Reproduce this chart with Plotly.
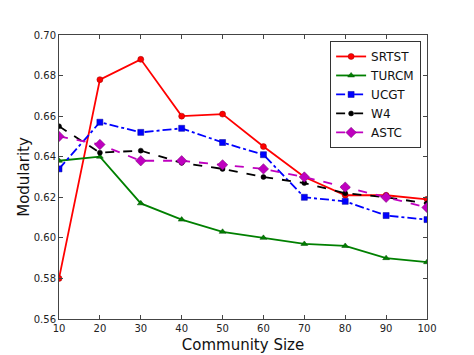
import plotly.graph_objects as go

sizes = [10, 20, 30, 40, 50, 60, 70, 80, 90, 100]
srtst = [0.580, 0.678, 0.688, 0.660, 0.661, 0.645, 0.630, 0.621, 0.621, 0.619]
turcm = [0.638, 0.640, 0.617, 0.609, 0.603, 0.600, 0.597, 0.596, 0.590, 0.588]
ucgt = [0.634, 0.657, 0.652, 0.654, 0.647, 0.641, 0.620, 0.618, 0.611, 0.609]
w4 = [0.655, 0.642, 0.643, 0.637, 0.634, 0.630, 0.627, 0.622, 0.620, 0.617]
astc = [0.650, 0.646, 0.638, 0.638, 0.636, 0.634, 0.630, 0.625, 0.620, 0.615]
yticks = [0.56, 0.58, 0.60, 0.62, 0.64, 0.66, 0.68, 0.70]

series = [
    ("SRTST", srtst, "#ff0000", "solid", "circle", 6, "#990000"),
    ("TURCM", turcm, "#008000", "solid", "triangle-up", 6, "#004d00"),
    ("UCGT", ucgt, "#0000ff", "dashdot", "square", 6, "#000099"),
    ("W4", w4, "#000000", "dash", "circle", 5, "#000000"),
    ("ASTC", astc, "#bf00bf", "dash", "diamond", 8, "#730073"),
]

fig = go.Figure()
for name, vals, col, dash, sym, ms, edge in series:
    fig.add_trace(go.Scatter(
        x=sizes, y=vals, name=name, mode="lines+markers",
        line=dict(color=col, width=1.8, dash=dash),
        marker=dict(symbol=sym, size=ms, color=col, line=dict(color=edge, width=0.5)),
    ))

axis_common = dict(
    showline=True, linecolor="#444444", linewidth=1, mirror="ticks",
    ticks="inside", ticklen=4, tickcolor="#444444", showgrid=False, zeroline=False,
    automargin=False,
    tickfont=dict(family="DejaVu Sans", size=10, color="#222222"),
)
fig.update_xaxes(range=[10, 100], tickvals=sizes, **axis_common,
                 title=dict(text="Community Size", font=dict(family="DejaVu Sans", size=15, color="#111111"), standoff=6))
fig.update_yaxes(range=[0.56, 0.70], tickvals=yticks, tickformat=".2f", **axis_common,
                 title=dict(text="Modularity", font=dict(family="DejaVu Sans", size=15, color="#111111"), standoff=0))

# page body has an 8px margin, so the figure is offset by (8, 8) in the window
fig.update_layout(
    width=474, height=355,
    margin=dict(l=51, r=55, t=27, b=44),
    paper_bgcolor="white", plot_bgcolor="white",
    showlegend=True,
    legend=dict(x=0.984, y=0.979, xanchor="right", yanchor="top",
                bordercolor="#333333", borderwidth=1, bgcolor="white",
                font=dict(family="DejaVu Sans", size=12, color="#111111"),
                tracegroupgap=0, itemwidth=30),
)
fig.write_html("out.html")
